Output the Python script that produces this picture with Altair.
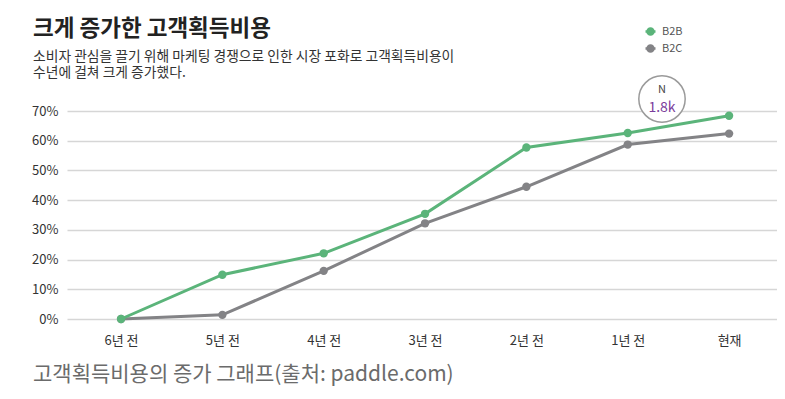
import altair as alt
import pandas as pd

periods = ["6년 전", "5년 전", "4년 전", "3년 전", "2년 전", "1년 전", "현재"]
b2b = [0.0, 14.9, 22.1, 35.4, 57.7, 62.6, 68.4]
b2c = [0.0, 1.4, 16.2, 32.2, 44.5, 58.7, 62.4]
series = ["B2B", "B2C"]
y_ticks = [0, 10, 20, 30, 40, 50, 60, 70]

title_text = "크게 증가한 고객획득비용"
subtitle_text = "소비자 관심을 끌기 위해 마케팅 경쟁으로 인한 시장 포화로 고객획득비용이\n수년에 걸쳐 크게 증가했다."
footer_text = "고객획득비용의 증가 그래프(출처: paddle.com)"
note_label = "N"
note_value = "1.8k"

FONT = "Noto Sans CJK KR"
GREEN = "#5bb47a"
GRAY = "#838386"
LEGEND_SYMBOL = "M-1,0L1,0M0.6,0A0.6,0.6,0,1,1,-0.6,0A0.6,0.6,0,1,1,0.6,0Z"

rows = []
for p, v in zip(periods, b2b):
    rows.append({"period": p, "series": "B2B", "value": v})
for p, v in zip(periods, b2c):
    rows.append({"period": p, "series": "B2C", "value": v})
df = pd.DataFrame(rows)

x_enc = alt.X("period:N", sort=periods,
              scale=alt.Scale(type="point", padding=0.503, align=0.53),
              axis=alt.Axis(title=None, labelAngle=0, labelFontSize=13, labelColor="#333",
                            labelFont=FONT, ticks=False, domain=False, labelPadding=15, grid=False))
y_enc = alt.Y("value:Q", scale=alt.Scale(domain=[0, 70], nice=False),
              axis=alt.Axis(title=None, values=y_ticks, labelExpr="datum.value + '%'",
                            labelFontSize=13, labelColor="#333", labelFont=FONT,
                            ticks=False, domain=False, labelPadding=9,
                            gridColor="#d6d6d6", gridWidth=1.5))
color_enc = alt.Color("series:N", scale=alt.Scale(domain=series, range=[GREEN, GRAY]),
                      legend=alt.Legend(orient="none", legendX=577, legendY=-86, title=None,
                                        labelFontSize=11, labelColor="#555", labelFont=FONT,
                                        symbolType=LEGEND_SYMBOL, symbolSize=100,
                                        symbolStrokeWidth=2.5, rowPadding=0,
                                        labelOffset=5))

base = alt.Chart(df)
line_c = base.transform_filter(alt.datum.series == "B2C").mark_line(
    strokeWidth=3, point=alt.OverlayMarkDef(size=70, filled=True, opacity=1)
).encode(x=x_enc, y=y_enc, color=color_enc)
line_b = base.transform_filter(alt.datum.series == "B2B").mark_line(
    strokeWidth=3, point=alt.OverlayMarkDef(size=70, filled=True, opacity=1)
).encode(x=x_enc, y=y_enc, color=color_enc)

one = pd.DataFrame({"a": [0]})
t = alt.Chart(one)
title = t.mark_text(align="left", baseline="middle", fontSize=22.5, fontWeight="bold",
                    font=FONT, color="#222").encode(
    x=alt.value(-34), y=alt.value(-82), text=alt.value(title_text))
sub = t.mark_text(align="left", baseline="middle", fontSize=13.8, font=FONT, color="#333",
                  lineBreak="\n", lineHeight=16).encode(
    x=alt.value(-34), y=alt.value(-54.5), text=alt.value(subtitle_text))
footer = t.mark_text(align="left", baseline="middle", fontSize=21, font=FONT, color="#6b6b6b").encode(
    x=alt.value(-34), y=alt.value(263.5), text=alt.value(footer_text))
circle = t.mark_point(shape="circle", size=2150, filled=False, fill="white", fillOpacity=1,
                      stroke="#9a9a9a", strokeWidth=1.5, opacity=1).encode(
    x=alt.value(595), y=alt.value(-12))
n_lab = t.mark_text(align="center", baseline="middle", fontSize=11, font=FONT, color="#444").encode(
    x=alt.value(595), y=alt.value(-21), text=alt.value(note_label))
n_val = t.mark_text(align="center", baseline="middle", fontSize=14, font=FONT, color="#7b3d9c").encode(
    x=alt.value(595), y=alt.value(-3), text=alt.value(note_value))

chart = alt.layer(line_c, line_b, circle, n_lab, n_val, title, sub, footer).properties(
    width=710, height=208,
    autosize=alt.AutoSizeParams(type="none"),
    padding={"left": 59, "top": 103, "right": 0, "bottom": 67},
    background="white",
).configure_view(stroke=None)

chart.save("out.html", embed_options={"renderer": "svg", "actions": False})
